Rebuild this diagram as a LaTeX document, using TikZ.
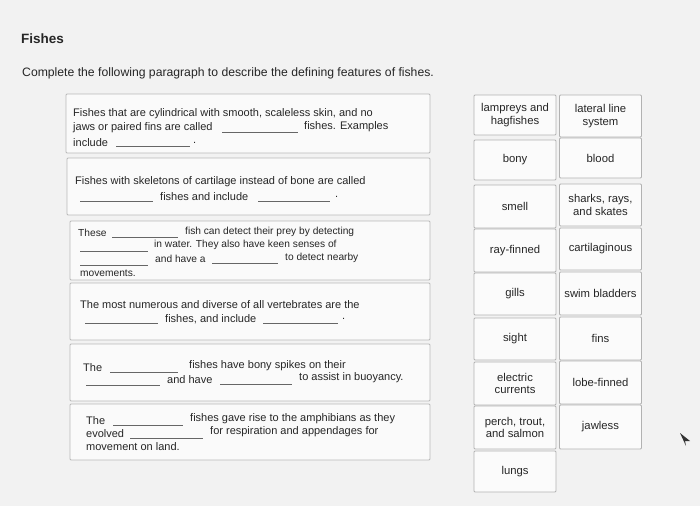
\documentclass[tikz,border=0pt]{standalone}
\usepackage{fontspec}
\setmainfont{Liberation Sans}
\begin{document}
\begin{tikzpicture}[x=1pt,y=-1pt,
  para/.style={draw=gray!55,fill=white!96!gray,line width=0.8pt,rounded corners=1pt},
  tile/.style={draw=gray!60,fill=white!97!gray,line width=0.8pt,rounded corners=1pt,minimum width=82pt,align=center,inner sep=1pt,font=\fontsize{11.3}{12.5}\selectfont,text=black!85},
  t/.style={anchor=west,inner sep=0pt,font=\fontsize{11}{12}\selectfont,text=black!85},
  ts/.style={anchor=west,inner sep=0pt,font=\fontsize{10.2}{11}\selectfont,text=black!85},
  blank/.style={draw=black!60,line width=0.5pt}]
\fill[gray!10] (0,0) rectangle (700,506);
\useasboundingbox (0,0) rectangle (700,506);
\node[t,font=\bfseries\fontsize{13.5}{14}\selectfont] (title) at (21,39) {Fishes};
\node[t,font=\fontsize{12.2}{13}\selectfont] (instr) at (22,73) {Complete the following paragraph to describe the defining features of fishes.};
% paragraph boxes
\draw[para] (66,94) rectangle (430,153);
\draw[para] (67,158) rectangle (430,215);
\draw[para] (70,221) rectangle (430,280);
\draw[para] (70,283) rectangle (430,340);
\draw[para] (70,344) rectangle (430,401);
\draw[para] (70,404) rectangle (430,460);
% box1
\node[t] (a1) at (73,114) {Fishes that are cylindrical with smooth, scaleless skin, and no};
\node[t] (a2) at (73,128) {jaws or paired fins are called};
\draw[blank] (222,132) -- (298,132);
\node[t] (a3) at (304,127) {fishes. Examples};
\node[t] (a4) at (73,143) {include};
\draw[blank] (116,146) -- (190,146);
\node[t] (a5) at (193,143) {.};
% box2
\node[t] (b1) at (75,182) {Fishes with skeletons of cartilage instead of bone are called};
\draw[blank] (80,201) -- (153,201);
\node[t] (b2) at (160,197) {fishes and include};
\draw[blank] (258,201) -- (330,201);
\node[t] (b3) at (335,197) {.};
% box3
\node[ts] (c1) at (78,233) {These};
\draw[blank] (112,237) -- (178,237);
\node[ts] (c2) at (185,232) {fish can detect their prey by detecting};
\draw[blank] (80,251) -- (148,251);
\node[ts] (c3) at (154,245) {in water. They also have keen senses of};
\draw[blank] (80,265) -- (148,265);
\node[ts] (c4) at (155,259) {and have a};
\draw[blank] (212,263) -- (278,263);
\node[ts] (c5) at (285,258) {to detect nearby};
\node[ts] (c6) at (80,273) {movements.};
% box4
\node[t] (d1) at (80,305) {The most numerous and diverse of all vertebrates are the};
\draw[blank] (85,323) -- (158,323);
\node[t] (d2) at (165,319) {fishes, and include};
\draw[blank] (263,323) -- (338,323);
\node[t] (d3) at (342,319) {.};
% box5
\node[t] (e1) at (83,368) {The};
\draw[blank] (110,372) -- (178,372);
\node[t] (e2) at (189,366) {fishes have bony spikes on their};
\draw[blank] (86,385) -- (160,385);
\node[t] (e3) at (167,380) {and have};
\draw[blank] (220,384) -- (292,384);
\node[t] (e4) at (299,378) {to assist in buoyancy.};
% box6
\node[t] (f1) at (86,421) {The};
\draw[blank] (113,425) -- (183,425);
\node[t] (f2) at (190,419) {fishes gave rise to the amphibians as they};
\node[t] (f3) at (86,434) {evolved};
\draw[blank] (130,438) -- (203,438);
\node[t] (f4) at (210,432) {for respiration and appendages for};
\node[t] (f5) at (86,447) {movement on land.};
% tiles col 1
\node[tile,minimum height=40pt] (k1) at (515,115) {lampreys and\\hagfishes};
\node[tile,minimum height=40pt] (k2) at (515,160) {bony};
\node[tile,minimum height=43pt] (k3) at (515,206.5) {smell};
\node[tile,minimum height=43pt] (k4) at (515,250.5) {ray-finned};
\node[tile,minimum height=42pt] (k5) at (515,294) {gills};
\node[tile,minimum height=42pt] (k6) at (515,339) {sight};
\node[tile,minimum height=43pt] (k7) at (515,383.5) {electric\\currents};
\node[tile,minimum height=43pt] (k8) at (515,427.5) {perch, trout,\\and salmon};
\node[tile,minimum height=41pt] (k9) at (515,471.5) {lungs};
% tiles col 2
\node[tile,minimum height=42pt] (m1) at (600.5,116) {lateral line\\system};
\node[tile,minimum height=40pt] (m2) at (600.5,158) {blood};
\node[tile,minimum height=42pt] (m3) at (600.5,205) {sharks, rays,\\and skates};
\node[tile,minimum height=42pt] (m4) at (600.5,249) {cartilaginous};
\node[tile,minimum height=43pt] (m5) at (600.5,293.5) {swim bladders};
\node[tile,minimum height=43pt] (m6) at (600.5,338.5) {fins};
\node[tile,minimum height=43pt] (m7) at (600.5,382.5) {lobe-finned};
\node[tile,minimum height=44pt] (m8) at (600.5,427) {jawless};
% cursor
\fill[black!80] (680,433) -- (690,441) -- (685,441) -- (686,446) -- cycle;
\end{tikzpicture}
\end{document}
